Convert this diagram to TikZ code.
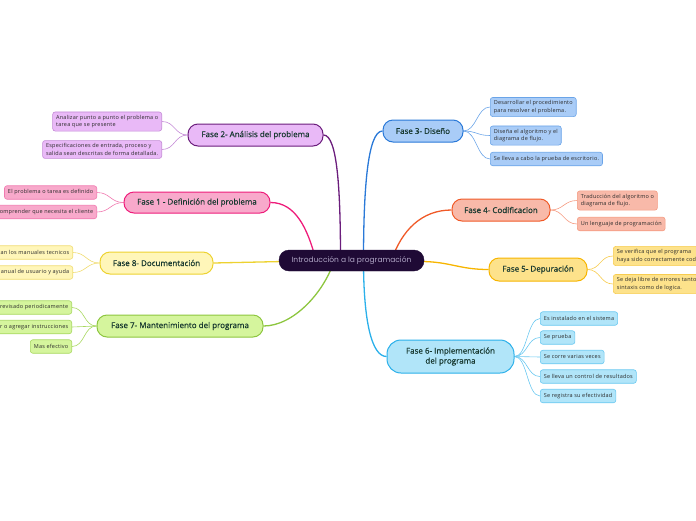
\documentclass[tikz,border=0pt]{standalone}
\usepackage{fontspec}
\setmainfont{Open Sans}
\newfontfamily\mainfont[FakeBold=0.6]{Open Sans}
\newfontfamily\leaffont[LetterSpace=4]{Open Sans}
\newfontfamily\centralfont{Poppins}
\usetikzlibrary{backgrounds,calc}
\definecolor{maintext}{HTML}{17382F}
\definecolor{leaftext}{HTML}{2B2B2B}
\definecolor{cfill}{HTML}{1F0A35}
\definecolor{ctext}{HTML}{B0A6C6}
\definecolor{pfill}{HTML}{E9B9F7}\definecolor{pdraw}{HTML}{6B1D7C}\definecolor{pleaf}{HTML}{C48AD6}
\definecolor{kfill}{HTML}{F8A9CB}\definecolor{kdraw}{HTML}{EE1C7A}\definecolor{kleaf}{HTML}{F07AB0}
\definecolor{yfill}{HTML}{FFF6B9}\definecolor{ydraw}{HTML}{EDD230}\definecolor{yleaf}{HTML}{F0DC70}
\definecolor{gfill}{HTML}{D5F59D}\definecolor{gdraw}{HTML}{8DC63F}\definecolor{gleaf}{HTML}{A8D860}
\definecolor{bfill}{HTML}{A9CCF7}\definecolor{bdraw}{HTML}{2A79D8}\definecolor{bleaf}{HTML}{6AA4E8}
\definecolor{ofill}{HTML}{F8B9A9}\definecolor{odraw}{HTML}{F05A28}\definecolor{oleaf}{HTML}{F59A80}
\definecolor{afill}{HTML}{FDE28B}\definecolor{adraw}{HTML}{F7B500}\definecolor{aleaf}{HTML}{F7CC50}
\definecolor{cyfill}{HTML}{B1E5F9}\definecolor{cydraw}{HTML}{2BB0EA}\definecolor{cyleaf}{HTML}{6AC8F0}
\begin{document}
\begin{tikzpicture}[x=1pt,y=-1pt,
  main/.style={rounded corners=10pt, line width=1pt, font=\mainfont\fontsize{8}{10}\selectfont, text=maintext, align=center, inner sep=2pt},
  leaf/.style={rounded corners=2.5pt, line width=0.6pt, font=\leaffont\fontsize{5.5}{7.6}\selectfont, text=leaftext, align=left, inner xsep=3.5pt, inner ysep=3pt, minimum height=13.5pt},
  trunk/.style={line width=1.3pt},
  twig/.style={line width=0.6pt},
]
\useasboundingbox (0,0) rectangle (696,520);

% central
\node[rounded corners=10pt, fill=cfill, draw=cfill, minimum width=145pt, minimum height=21pt, font=\centralfont\fontsize{7.5}{8}\selectfont, text=ctext] (c) at (351.5,260.5) {Introducción a la programación};

% main branches
\node[main, fill=pfill, draw=pdraw, minimum width=135pt, minimum height=22pt] (f2) at (255.5,135) {Fase 2- Análisis del problema};
\node[main, fill=kfill, draw=kdraw, minimum width=146pt, minimum height=21pt] (f1) at (197,202.5) {Fase 1 - Definición del problema};
\node[main, fill=yfill, draw=ydraw, minimum width=113pt, minimum height=22pt] (f8) at (156.5,263) {Fase 8- Documentación};
\node[main, fill=gfill, draw=gdraw, minimum width=166pt, minimum height=22pt] (f7) at (180,326) {Fase 7- Mantenimiento del programa};
\node[main, fill=bfill, draw=bdraw, minimum width=80pt, minimum height=22pt] (f3) at (423,131) {Fase 3- Diseño};
\node[main, fill=ofill, draw=odraw, minimum width=98pt, minimum height=22pt] (f4) at (501,210) {Fase 4- Codificacion};
\node[main, fill=afill, draw=adraw, minimum width=98pt, minimum height=23pt] (f5) at (538,269.5) {Fase 5- Depuración};
\node[main, fill=cyfill, draw=cydraw, minimum width=127pt, minimum height=33pt, rounded corners=14pt] (f6) at (450.5,356.5) {Fase 6- Implementación\\del programa};

% leaves
\node[leaf, fill=pfill, draw=pleaf, anchor=east] (f2a) at (162,121.5) {Analizar punto a punto el problema o\\tarea que se presente};
\node[leaf, fill=pfill, draw=pleaf, anchor=east] (f2b) at (162,149.5) {Especificaciones de entrada, proceso y\\salida sean descritas de forma detallada.};

\node[leaf, fill=kfill, draw=kleaf, anchor=east] (f1a) at (97,192.5) {El problema o tarea es definido};
\node[leaf, fill=kfill, draw=kleaf, anchor=east] (f1b) at (97,212) {Comprender que necesita el cliente};

\node[leaf, fill=yfill, draw=yleaf, anchor=east] (f8a) at (73,252.5) {Se realizan los manuales tecnicos};
\node[leaf, fill=yfill, draw=yleaf, anchor=east] (f8b) at (73,272.5) {Manual de usuario y ayuda};

\node[leaf, fill=gfill, draw=gleaf, anchor=east] (f7a) at (72,307.5) {Es revisado periodicamente};
\node[leaf, fill=gfill, draw=gleaf, anchor=east] (f7b) at (72,327) {Quitar o agregar instrucciones};
\node[leaf, fill=gfill, draw=gleaf, anchor=east] (f7c) at (72,346.5) {Mas efectivo};

\node[leaf, fill=bfill, draw=bleaf, anchor=west] (f3a) at (490,107) {Desarrollar el procedimiento\\para resolver el problema.};
\node[leaf, fill=bfill, draw=bleaf, anchor=west] (f3b) at (490,135.5) {Diseña el algoritmo y el\\diagrama de flujo.};
\node[leaf, fill=bfill, draw=bleaf, anchor=west] (f3c) at (490,159) {Se lleva a cabo la prueba de escritorio.};

\node[leaf, fill=ofill, draw=oleaf, anchor=west] (f4a) at (577,200.5) {Traducción del algoritmo o\\diagrama de flujo.};
\node[leaf, fill=ofill, draw=oleaf, anchor=west] (f4b) at (577,224) {Un lenguaje de programación};

\node[leaf, fill=afill, draw=aleaf, anchor=west] (f5a) at (613,256) {Se verifica que el programa\\haya sido correctamente codificado.};
\node[leaf, fill=afill, draw=aleaf, anchor=west] (f5b) at (613,284) {Se deja libre de errores tanto de\\sintaxis como de logica.};

\node[leaf, fill=cyfill, draw=cyleaf, anchor=west] (f6a) at (540,318.5) {Es instalado en el sistema};
\node[leaf, fill=cyfill, draw=cyleaf, anchor=west] (f6b) at (540,337.5) {Se prueba};
\node[leaf, fill=cyfill, draw=cyleaf, anchor=west] (f6c) at (540,357) {Se corre varias veces};
\node[leaf, fill=cyfill, draw=cyleaf, anchor=west] (f6d) at (540,376.5) {Se lleva un control de resultados};
\node[leaf, fill=cyfill, draw=cyleaf, anchor=west] (f6e) at (540,396) {Se registra su efectividad};

\begin{pgfonlayer}{background}
% trunks
\draw[trunk, pdraw] (f2.east) .. controls +(14,0) and +(0,-70) .. ($(c.center)+(-11,0)$);
\draw[trunk, kdraw] (f1.east) .. controls +(25,0) and +(-8,-30) .. ($(c.center)+(-36,-2)$);
\draw[trunk, ydraw] (f8.east) -- ($(c.west)+(4,1)$);
\draw[trunk, gdraw] (f7.east) .. controls +(30,0) and +(-10,30) .. ($(c.center)+(-18,2)$);
\draw[trunk, bdraw] (f3.west) .. controls +(-15,0) and +(0,-70) .. ($(c.center)+(12,0)$);
\draw[trunk, odraw] (f4.west) .. controls +(-30,0) and +(10,-30) .. ($(c.center)+(40,0)$);
\draw[trunk, adraw] (f5.west) .. controls +(-30,0) and +(30,0) .. ($(c.east)+(-4,1)$);
\draw[trunk, cydraw] ($(c.center)+(12,0)$) .. controls +(0,60) and +(-15,0) .. (f6.west);
% twigs
\foreach \l in {f2a,f2b} \draw[twig, pleaf] (f2.west) .. controls +(-13,0) and +(13,0) .. (\l.east);
\foreach \l in {f1a,f1b} \draw[twig, kleaf] (f1.west) .. controls +(-13,0) and +(13,0) .. (\l.east);
\foreach \l in {f8a,f8b} \draw[twig, yleaf] (f8.west) .. controls +(-13,0) and +(13,0) .. (\l.east);
\foreach \l in {f7a,f7b,f7c} \draw[twig, gleaf] (f7.west) .. controls +(-13,0) and +(13,0) .. (\l.east);
\foreach \l in {f3a,f3b,f3c} \draw[twig, bleaf] (f3.east) .. controls +(13,0) and +(-13,0) .. (\l.west);
\foreach \l in {f4a,f4b} \draw[twig, oleaf] (f4.east) .. controls +(13,0) and +(-13,0) .. (\l.west);
\foreach \l in {f5a,f5b} \draw[twig, aleaf] (f5.east) .. controls +(13,0) and +(-13,0) .. (\l.west);
\foreach \l in {f6a,f6b,f6c,f6d,f6e} \draw[twig, cyleaf] (f6.east) .. controls +(13,0) and +(-13,0) .. (\l.west);
\end{pgfonlayer}
\end{tikzpicture}
\end{document}
